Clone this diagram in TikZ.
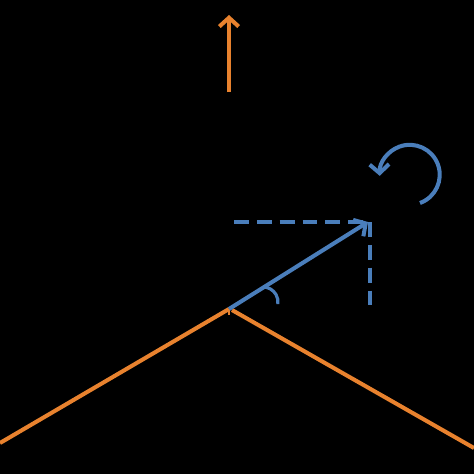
\documentclass[tikz,border=0pt]{standalone}
\usepackage{tikz}
\usetikzlibrary{arrows.meta, calc}
\definecolor{rayorange}{HTML}{E8822E}
\definecolor{vecblue}{HTML}{4A7EBB}

\begin{document}
\begin{tikzpicture}[
  x=0.02cm, y=-0.02cm,
  line/.style={line width=2.3pt},
  ray/.style={line, rayorange},
  vec/.style={line, vecblue},
  guide/.style={line, vecblue, dash pattern=on 8.5pt off 4.5pt},
  tip/.style={-{Straight Barb[length=5pt, width=11pt, line width=2.3pt]}},
]
  % background and frame
  \fill[black] (0,0) rectangle (474,474);
  \useasboundingbox (0,0) rectangle (474,474);

  % points
  \coordinate (apex) at (229,309);
  \coordinate (left) at (0,443);
  \coordinate (right) at (474,448);
  \coordinate (up0) at (229,92);
  \coordinate (up1) at (229,15);
  \coordinate (head) at (368,222);
  \coordinate (hstart) at (234,222);
  \coordinate (corner) at (370,222);
  \coordinate (vend) at (370,306);

  % slopes
  \draw[ray] (left) -- (apex);
  \draw[ray] ($(apex)+(3,1)$) -- (right);
  \draw[ray, line width=1.5pt] (apex) -- ++(0,6);

  % upward arrow
  \draw[ray, tip] (up0) -- (up1);

  % vector and its components
  \draw[guide] (hstart) -- (corner);
  \draw[guide] (corner) -- (vend);
  \draw[vec, tip] (apex) -- (head);

  % angle mark
  \draw[vec, line width=1.8pt] (263,287) arc[start angle=-90, end angle=8, radius=15];

  % rotation sense
  \draw[vec, tip] (420,203) arc[start angle=70, end angle=-182, radius=30];
\end{tikzpicture}
\end{document}
